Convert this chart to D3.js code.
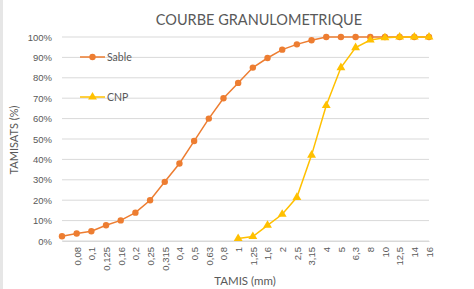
<!DOCTYPE html>
<html>
<head>
<meta charset="utf-8">
<script src="https://cdn.jsdelivr.net/npm/d3@7"></script>
<style>
  body { margin: 0; background: #fff; }
  svg { display: block; font-family: Lato, "Open Sans", sans-serif; }
</style>
</head>
<body>
<div id="chart"></div>
<script>
// Sieve sizes (mm), first one has no label
const tamis = ["", "0,08", "0,1", "0,125", "0,16", "0,2", "0,25", "0,315", "0,4", "0,5", "0,63", "0,8",
    "1", "1,25", "1,6", "2", "2,5", "3,15", "4", "5", "6,3", "8", "10", "12,5", "14", "16"];

// Passing percentages
const sable = [2.3, 3.7, 4.8, 7.7, 10.1, 13.9, 20, 29, 38, 49, 60, 70,
    77.5, 85, 89.7, 93.8, 96.4, 98.4, 100, 100, 100, 100, 100, 100, 100, 100];
const cnp = [null, null, null, null, null, null, null, null, null, null, null, null,
    1.2, 2.2, 7.7, 13.1, 21.4, 42.1, 66.4, 85, 94.8, 98.5, 99.6, 100, 100, 100];

const yTicks = [0, 10, 20, 30, 40, 50, 60, 70, 80, 90, 100];

const W = 474, H = 289;
const margin = { top: 37, right: 45, bottom: 48, left: 62 };
const width = W - margin.left - margin.right;
const height = H - margin.top - margin.bottom;

const svg = d3.select("#chart")
    .append("svg")
    .attr("width", W)
    .attr("height", H);

// light frame on the left like the screenshot
svg.append("rect")
    .attr("x", 0).attr("y", 0)
    .attr("width", 3).attr("height", H)
    .attr("fill", "#e6e6e6");

const g = svg.append("g")
    .attr("transform", `translate(${margin.left},${margin.top})`);

const x = d3.scalePoint()
    .domain(d3.range(tamis.length))
    .range([0, width]);

const y = d3.scaleLinear()
    .domain([0, 100])
    .range([height, 0]);

// gridlines
g.append("g")
    .selectAll("line")
    .data(yTicks)
    .enter()
    .append("line")
    .attr("x1", 0)
    .attr("x2", width)
    .attr("y1", d => y(d))
    .attr("y2", d => y(d))
    .attr("stroke", "#d9d9d9")
    .attr("stroke-width", 1);

// Y axis
const yAxis = g.append("g")
    .call(d3.axisLeft(y).tickValues(yTicks).tickFormat(d => d + "%").tickSize(0).tickPadding(10));
yAxis.select(".domain").remove();
yAxis.selectAll("text")
    .attr("fill", "#595959")
    .style("font-size", "9.5px");

// X axis
const xAxis = g.append("g")
    .attr("transform", `translate(0,${height})`)
    .call(d3.axisBottom(x).tickFormat(i => tamis[i]).tickSize(0));
xAxis.select(".domain").attr("stroke", "#d9d9d9");
xAxis.selectAll("text")
    .attr("fill", "#595959")
    .style("font-size", "9.5px")
    .attr("text-anchor", "end")
    .attr("transform", "rotate(-90)")
    .attr("x", -6)
    .attr("y", 0)
    .attr("dy", "0.35em");

// Lines
const sableLine = d3.line()
    .x((d, i) => x(i))
    .y(d => y(d));

const cnpLine = d3.line()
    .defined(d => d !== null)
    .x((d, i) => x(i))
    .y(d => y(d));

g.append("path")
    .datum(sable)
    .attr("fill", "none")
    .attr("stroke", "#ED7D31")
    .attr("stroke-width", 1.5)
    .attr("d", sableLine);

g.selectAll(".dot-sable")
    .data(sable)
    .enter()
    .append("circle")
    .attr("cx", (d, i) => x(i))
    .attr("cy", d => y(d))
    .attr("r", 3.2)
    .attr("fill", "#ED7D31");

g.append("path")
    .datum(cnp)
    .attr("fill", "none")
    .attr("stroke", "#FFC000")
    .attr("stroke-width", 1.5)
    .attr("d", cnpLine);

const tri = d3.symbol().type(d3.symbolTriangle).size(34);

g.selectAll(".dot-cnp")
    .data(cnp.map((v, i) => ({ v, i })).filter(d => d.v !== null))
    .enter()
    .append("path")
    .attr("d", tri)
    .attr("transform", d => `translate(${x(d.i)},${y(d.v)})`)
    .attr("fill", "#FFC000");

// Legend
const legendItems = [
    { name: "Sable", color: "#ED7D31", sym: "circle", y: 57 },
    { name: "CNP", color: "#FFC000", sym: "triangle", y: 97 }
];

legendItems.forEach(item => {
    const row = svg.append("g")
        .attr("transform", `translate(80,${item.y})`);
    row.append("line")
        .attr("x1", 0).attr("x2", 25)
        .attr("stroke", item.color)
        .attr("stroke-width", 1.5);
    if (item.sym === "circle") {
        row.append("circle")
            .attr("cx", 12.5).attr("r", 3.2)
            .attr("fill", item.color);
    } else {
        row.append("path")
            .attr("d", tri)
            .attr("transform", "translate(12.5,0)")
            .attr("fill", item.color);
    }
    row.append("text")
        .attr("x", 27)
        .attr("dy", "0.35em")
        .attr("fill", "#595959")
        .style("font-size", "10.5px")
        .text(item.name);
});

// Title
svg.append("text")
    .attr("x", 259)
    .attr("y", 25)
    .attr("text-anchor", "middle")
    .attr("fill", "#595959")
    .style("font-size", "14.5px")
    .text("COURBE GRANULOMETRIQUE");

// Axis titles
svg.append("text")
    .attr("x", 245)
    .attr("y", 285)
    .attr("text-anchor", "middle")
    .attr("fill", "#595959")
    .style("font-size", "11.5px")
    .text("TAMIS (mm)");

svg.append("text")
    .attr("transform", "rotate(-90)")
    .attr("x", -140)
    .attr("y", 18)
    .attr("text-anchor", "middle")
    .attr("fill", "#595959")
    .style("font-size", "11px")
    .text("TAMISATS (%)");
</script>
</body>
</html>
